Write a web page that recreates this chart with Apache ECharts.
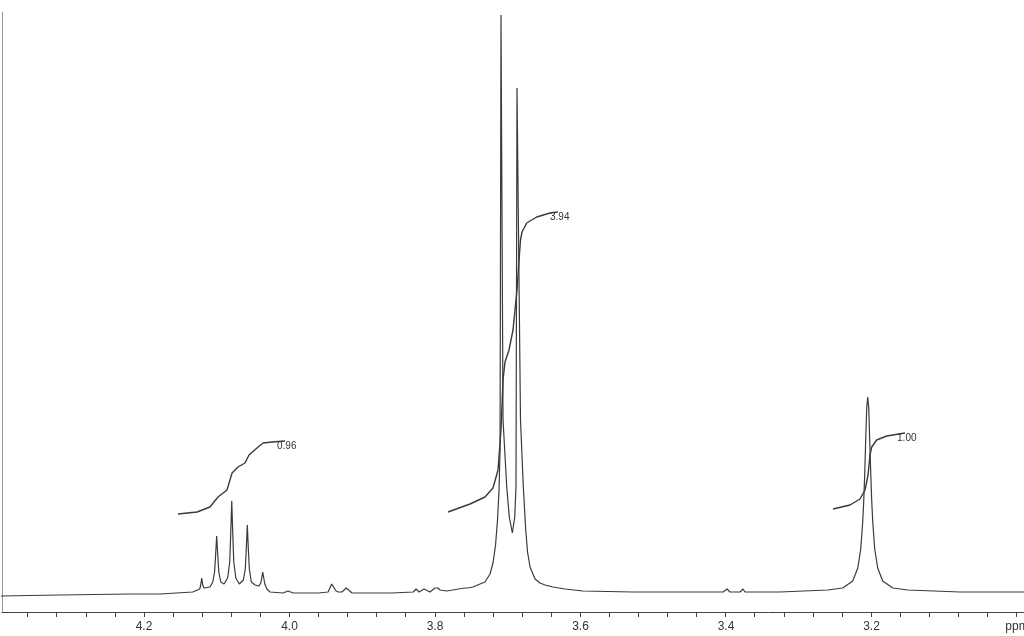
<!DOCTYPE html>
<html>
<head>
<meta charset="utf-8">
<title>1H NMR</title>
<script src="https://cdn.jsdelivr.net/npm/echarts@6/dist/echarts.min.js"></script>
<style>
  html, body { margin: 0; padding: 0; background: #fff; }
  #chart { width: 1024px; height: 636px; }
</style>
</head>
<body>
<div id="chart"></div>
<script>
// spectrum trace: [ppm, intensity]
const spectrum = [
  [4.398, -2], [4.316, -1], [4.219, 0], [4.178, 0], [4.133, 2], [4.1234, 5],
  [4.1220, 9], [4.1207, 16], [4.1193, 9], [4.1175, 6], [4.1093, 7],
  [4.1055, 12], [4.1030, 22], [4.1015, 40], [4.1001, 58], [4.0987, 40],
  [4.0972, 22], [4.0945, 12], [4.0900, 10],
  [4.0850, 16], [4.0822, 32], [4.0808, 60], [4.0794, 93], [4.0780, 60],
  [4.0766, 32], [4.0738, 16], [4.0690, 10],
  [4.0635, 14], [4.0608, 25], [4.0594, 45], [4.0580, 69], [4.0566, 45],
  [4.0552, 25], [4.0525, 12], [4.0474, 9],
  [4.0420, 8], [4.0395, 11], [4.0382, 16], [4.0368, 22], [4.0354, 16],
  [4.0340, 10], [4.0310, 5], [4.0268, 2],
  [4.009, 1], [4.002, 3], [3.995, 1], [3.981, 1], [3.960, 1],
  [3.947, 2], [3.942, 10], [3.936, 3], [3.933, 2], [3.928, 2], [3.922, 6],
  [3.914, 1], [3.860, 1], [3.830, 2], [3.826, 5], [3.822, 2], [3.815, 5],
  [3.807, 2], [3.800, 6], [3.796, 6], [3.793, 4], [3.784, 3], [3.759, 6],
  [3.755, 6], [3.748, 7], [3.7381, 10], [3.7313, 12], [3.7244, 20],
  [3.7203, 31], [3.7168, 49], [3.7141, 74], [3.7120, 104], [3.7106, 144],
  [3.7093, 579], [3.7065, 174], [3.7014, 107], [3.6979, 77], [3.6937, 61],
  [3.6904, 77], [3.6887, 107], [3.6873, 506], [3.6825, 174], [3.6786, 107],
  [3.6753, 64], [3.6728, 42], [3.6694, 27], [3.6625, 15], [3.6557, 11],
  [3.6488, 9], [3.6378, 7], [3.6213, 5], [3.5966, 3], [3.528, 2],
  [3.404, 2], [3.3986, 5], [3.3945, 2], [3.3807, 2], [3.3766, 5], [3.3739, 2],
  [3.326, 2], [3.2602, 4], [3.2396, 6], [3.2258, 13], [3.2189, 26],
  [3.2148, 45], [3.2121, 72], [3.2107, 93], [3.2093, 121], [3.2080, 154],
  [3.2066, 186], [3.2052, 197], [3.2038, 186], [3.2025, 154], [3.2011, 121],
  [3.1997, 93], [3.1983, 72], [3.1956, 45], [3.1915, 26], [3.1846, 13],
  [3.1708, 6], [3.1502, 4], [3.078, 2], [2.990, 2]
];

// integral curves
const integralA = [
  [4.1533, 80], [4.1271, 82], [4.1093, 87], [4.0983, 97], [4.0859, 104],
  [4.0790, 121], [4.0708, 127], [4.0612, 131], [4.0557, 139], [4.0447, 146],
  [4.0364, 151], [4.0241, 152], [4.0062, 153]
];
const integralB = [
  [3.7821, 82], [3.7519, 90], [3.7313, 97], [3.7203, 106], [3.7134, 124],
  [3.7093, 164], [3.7065, 214], [3.7038, 232], [3.6983, 244], [3.6928, 264],
  [3.6873, 304], [3.6845, 334], [3.6825, 354], [3.6804, 362], [3.6739, 371],
  [3.6602, 377], [3.6419, 381], [3.6309, 382]
];
const integralC = [
  [3.2529, 85], [3.2296, 89], [3.2158, 95], [3.2089, 104], [3.2048, 119],
  [3.2021, 139], [3.1997, 147], [3.1929, 154], [3.1791, 158], [3.1539, 161]
];
const integralLabels = ['0.96', '3.94', '1.00'];

// axis: labels every 0.2 ppm, minor ticks every 0.04 ppm
const labelValues = [4.2, 4.0, 3.8, 3.6, 3.4, 3.2, 3.0];
const tickStep = 0.04;

const chart = echarts.init(document.getElementById('chart'));

const lineColor = '#3a3a3a';

const integralSeries = (data, text) => ({
  type: 'line',
  data: data,
  showSymbol: false,
  silent: true,
  lineStyle: { color: lineColor, width: 1.4 },
  markPoint: {
    symbol: 'circle',
    symbolSize: 0,
    silent: true,
    data: [{
      coord: data[data.length - 1],
      label: {
        show: true,
        formatter: text,
        position: [-8, 0],
        align: 'left',
        verticalAlign: 'top',
        color: '#333',
        fontFamily: 'Liberation Sans, Arial, sans-serif',
        fontSize: 10
      }
    }]
  }
});

const option = {
  animation: false,
  grid: [
    // plot area: 4.3952 ppm at the left edge, 2.9904 ppm at the right edge
    { left: 2, right: 0, top: 12, bottom: 24, containLabel: false, outerBoundsMode: 'none' },
    // same scale, widened so the tick grid starts on a multiple of 0.04
    { left: -1.5, right: -21.6, top: 12, bottom: 24, containLabel: false, outerBoundsMode: 'none' }
  ],
  xAxis: [
    {
      type: 'value',
      gridIndex: 0,
      inverse: true,
      min: 2.9904,
      max: 4.3952,
      axisLine: { show: true, onZero: false, lineStyle: { color: '#444', width: 1 } },
      axisTick: { show: false },
      axisLabel: {
        customValues: labelValues,
        margin: 9,
        color: '#333',
        fontFamily: 'Liberation Sans, Arial, sans-serif',
        fontSize: 12,
        formatter: v => (Math.abs(v - 3.0) < 1e-6 ? 'ppm' : v.toFixed(1))
      },
      splitLine: { show: false }
    },
    {
      type: 'value',
      gridIndex: 1,
      inverse: true,
      min: 2.96,
      max: 4.40,
      interval: tickStep,
      axisLine: { show: false, onZero: false },
      axisTick: { show: true, length: 5, lineStyle: { color: '#444' } },
      axisLabel: { show: false },
      splitLine: { show: false }
    }
  ],
  yAxis: [
    {
      type: 'value',
      gridIndex: 0,
      min: -18,
      max: 582,
      axisLine: { show: true, lineStyle: { color: '#999', width: 1 } },
      axisTick: { show: false },
      axisLabel: { show: false },
      splitLine: { show: false }
    },
    {
      type: 'value',
      gridIndex: 1,
      min: 0,
      max: 1,
      show: false
    }
  ],
  series: [
    {
      type: 'line',
      data: spectrum,
      showSymbol: false,
      silent: true,
      lineStyle: { color: lineColor, width: 1.2 }
    },
    integralSeries(integralA, integralLabels[0]),
    integralSeries(integralB, integralLabels[1]),
    integralSeries(integralC, integralLabels[2])
  ]
};

chart.setOption(option);
window.addEventListener('resize', () => chart.resize());
</script>
</body>
</html>
